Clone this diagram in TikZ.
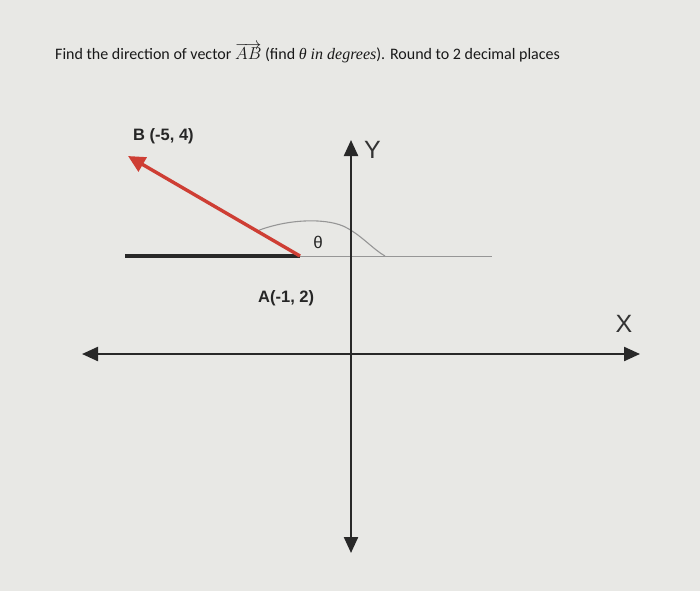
\documentclass[tikz,border=0pt]{standalone}
\usepackage{fontspec}
\setmainfont{Liberation Sans}
\newfontfamily\titlefont{Carlito}
\newfontfamily\serifit{Liberation Serif}
\usetikzlibrary{arrows.meta}
\definecolor{bg}{RGB}{232,232,229}
\definecolor{redv}{RGB}{206,62,52}
\definecolor{axiscol}{RGB}{40,40,40}
\definecolor{thingray}{RGB}{150,150,150}
\tikzset{
  axisline/.style={draw=axiscol, line width=2.3pt, {Triangle[length=16pt,width=14pt]}-{Triangle[length=16pt,width=14pt]}},
  lbl/.style={font=\bfseries\fontsize{16.5}{20}\selectfont, text=black!85, inner sep=0pt},
  axlbl/.style={font=\fontsize{25}{28}\selectfont, text=black!80, inner sep=0pt},
}
\begin{document}
\begin{tikzpicture}[x=1pt,y=-1pt]
\fill[bg] (0,0) rectangle (700,591);
\useasboundingbox (0,0) rectangle (700,591);
% title
\node[anchor=base west, inner sep=0pt, font=\titlefont\fontsize{16}{18}\selectfont, text=black!90] (title) at (55,60)
  {Find the direction of vector $\overrightarrow{AB}$ (find {\serifit\itshape θ in degrees}). Round to 2 decimal places};
% coordinates
\coordinate (xl) at (82,354);
\coordinate (xr) at (640,354);
\coordinate (yt) at (351,140);
\coordinate (yb) at (351,553);
\coordinate (L) at (125,256);
\coordinate (R) at (492,256);
\coordinate (A) at (300,256);
\coordinate (B) at (128,156);
% thin reference line
\draw[draw=thingray, line width=1pt] (A) -- (R);
% angle curve
\coordinate (c0) at (257,231);
\coordinate (c1) at (347,228);
\coordinate (c2) at (385,256);
\draw[draw=thingray, line width=1.1pt] (c0) .. controls (290,218) and (330,218) .. (c1) .. controls (362,236) and (374,250) .. (c2);
% thick black segment
\draw[draw=axiscol, line width=3.2pt] (L) -- (A);
% axes
\draw[axisline] (xl) -- (xr);
\draw[axisline] (yb) -- (yt);
% red vector
\draw[draw=redv, fill=redv, line width=3.4pt, -{Triangle[length=17pt,width=16pt]}] (A) -- (B);
% labels
\node[lbl, anchor=base west] (Blbl) at (133,140) {B (-5, 4)};
\node[lbl, anchor=base west] (Albl) at (258,302) {A(-1, 2)};
\node[lbl, font=\fontsize{17}{20}\selectfont, anchor=base] (theta) at (318,248) {θ};
\node[axlbl, anchor=base west] (Ylbl) at (364,158) {Y};
\node[axlbl, anchor=base] (Xlbl) at (624,332) {X};
\end{tikzpicture}
\end{document}
